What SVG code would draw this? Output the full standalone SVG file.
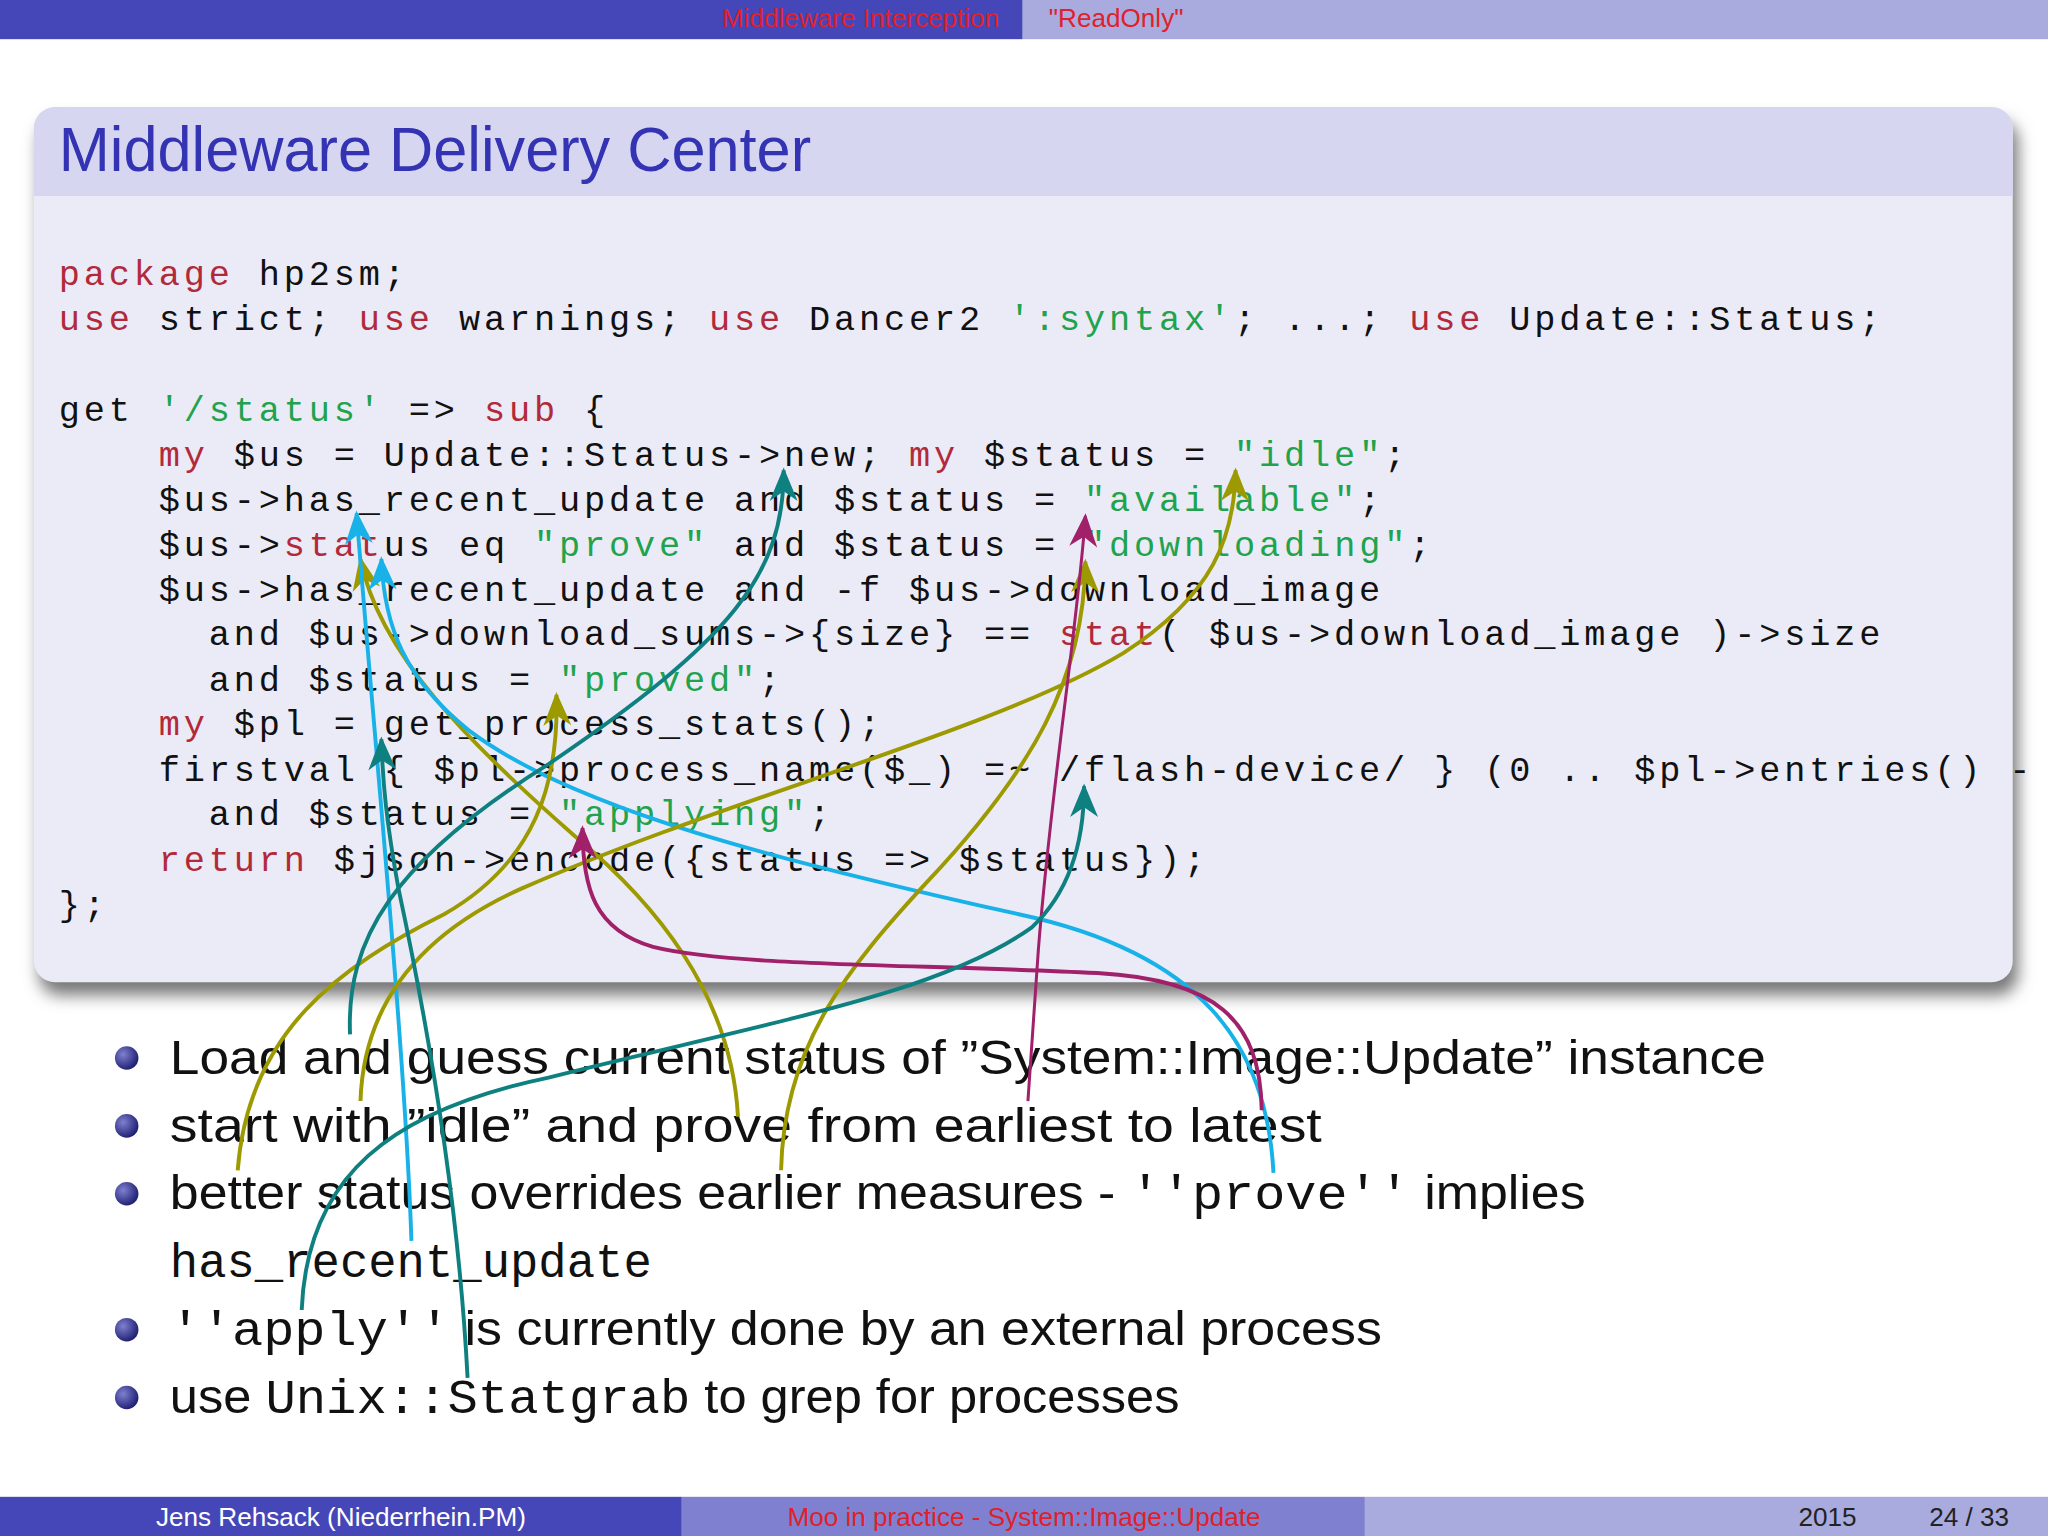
<svg xmlns="http://www.w3.org/2000/svg" width="2048" height="1536" viewBox="0 0 2048 1536">
<defs>
<style>
.code{font-family:"Liberation Mono",monospace;font-size:27px;letter-spacing:2.95px;fill:#111;white-space:pre}
.k{fill:#b22a3a}.s{fill:#1fa34d}
.bt{font-family:"Liberation Sans",Arial,sans-serif;font-size:37px;fill:#111;white-space:pre}
.bm{font-family:"Liberation Mono",monospace}
.hd{font-family:"Liberation Sans",Arial,sans-serif;font-size:20px}
.c{fill:none;stroke-width:3}
.cy{stroke:#18b2e8}.te{stroke:#0f8080}.ol{stroke:#9c9a00}.ma{stroke:#a0206a}
</style>
<marker id="mcy" markerUnits="userSpaceOnUse" markerWidth="30" markerHeight="30" viewBox="-24 -12 28 24" refX="0" refY="0" orient="auto"><path d="M2,0 L-22,-10 L-15,0 L-22,10 Z" fill="#18b2e8"/></marker>
<marker id="mte" markerUnits="userSpaceOnUse" markerWidth="30" markerHeight="30" viewBox="-24 -12 28 24" refX="0" refY="0" orient="auto"><path d="M2,0 L-22,-10 L-15,0 L-22,10 Z" fill="#0f8080"/></marker>
<marker id="mol" markerUnits="userSpaceOnUse" markerWidth="30" markerHeight="30" viewBox="-24 -12 28 24" refX="0" refY="0" orient="auto"><path d="M2,0 L-22,-10 L-15,0 L-22,10 Z" fill="#9c9a00"/></marker>
<marker id="mma" markerUnits="userSpaceOnUse" markerWidth="30" markerHeight="30" viewBox="-24 -12 28 24" refX="0" refY="0" orient="auto"><path d="M2,0 L-22,-10 L-15,0 L-22,10 Z" fill="#a0206a"/></marker>
<filter id="sh" x="-5%" y="-5%" width="110%" height="115%"><feGaussianBlur stdDeviation="6"/></filter>
<radialGradient id="bul" cx="0.35" cy="0.35" r="0.7"><stop offset="0" stop-color="#8080d0"/><stop offset="1" stop-color="#1c1c70"/></radialGradient>
</defs>
<rect width="2048" height="1536" fill="#fff"/>
<g transform="scale(1.30612)">
<g id="header">
<rect x="0" y="0" width="783" height="30" fill="#4547b8"/>
<rect x="783" y="0" width="785" height="30" fill="#a9aade"/>
<text class="hd" x="765" y="21" text-anchor="end" fill="#e0202a">Middleware Interception</text>
<text class="hd" x="803" y="21" fill="#e0202a">"ReadOnly"</text>
</g>
<g id="block">
<rect x="30" y="92" width="1515" height="670" rx="16" fill="#777" filter="url(#sh)"/>
<rect x="26" y="82" width="1515" height="670" rx="16" fill="#ebebf7"/>
<path d="M26,150 V98 A16,16 0 0 1 42,82 H1525 A16,16 0 0 1 1541,98 V150 Z" fill="#d6d6f0"/>
<text x="45" y="131" font-family="'Liberation Sans',Arial,sans-serif" font-size="48" fill="#3333b3" textLength="576" lengthAdjust="spacingAndGlyphs">Middleware Delivery Center</text>
</g>
<g id="code" xml:space="preserve">
<text class="code" x="45" y="218"><tspan class="k">package</tspan> hp2sm;</text>
<text class="code" x="45" y="253"><tspan class="k">use</tspan> strict; <tspan class="k">use</tspan> warnings; <tspan class="k">use</tspan> Dancer2 <tspan class="s">':syntax'</tspan>; ...; <tspan class="k">use</tspan> Update::Status;</text>
<text class="code" x="45" y="322">get <tspan class="s">'/status'</tspan> =&gt; <tspan class="k">sub</tspan> {</text>
<text class="code" x="45" y="357">    <tspan class="k">my</tspan> $us = Update::Status-&gt;new; <tspan class="k">my</tspan> $status = <tspan class="s">"idle"</tspan>;</text>
<text class="code" x="45" y="391">    $us-&gt;has_recent_update and $status = <tspan class="s">"available"</tspan>;</text>
<text class="code" x="45" y="426">    $us-&gt;<tspan class="k">stat</tspan>us eq <tspan class="s">"prove"</tspan> and $status = <tspan class="s">"downloading"</tspan>;</text>
<text class="code" x="45" y="460">    $us-&gt;has_recent_update and -f $us-&gt;download_image</text>
<text class="code" x="45" y="494">      and $us-&gt;download_sums-&gt;{size} == <tspan class="k">stat</tspan>( $us-&gt;download_image )-&gt;size</text>
<text class="code" x="45" y="529">      and $status = <tspan class="s">"proved"</tspan>;</text>
<text class="code" x="45" y="563">    <tspan class="k">my</tspan> $pl = get_process_stats();</text>
<text class="code" x="45" y="598">    firstval { $pl-&gt;process_name($_) =~ /flash-device/ } (0 .. $pl-&gt;entries() -</text>
<text class="code" x="45" y="632">      and $status = <tspan class="s">"applying"</tspan>;</text>
<text class="code" x="45" y="667">    <tspan class="k">return</tspan> $json-&gt;encode({status =&gt; $status});</text>
<text class="code" x="45" y="701">};</text>
</g>
<g id="bullets">
<circle cx="97" cy="810" r="9" fill="url(#bul)"/>
<circle cx="97" cy="862" r="9" fill="url(#bul)"/>
<circle cx="97" cy="914" r="9" fill="url(#bul)"/>
<circle cx="97" cy="1018" r="9" fill="url(#bul)"/>
<circle cx="97" cy="1070" r="9" fill="url(#bul)"/>
<text class="bt" x="130" y="822" textLength="1222" lengthAdjust="spacingAndGlyphs">Load and guess current status of ”System::Image::Update” instance</text>
<text class="bt" x="130" y="874" textLength="882" lengthAdjust="spacingAndGlyphs">start with ”idle” and prove from earliest to latest</text>
<text class="bt" x="130" y="926" textLength="1084" lengthAdjust="spacingAndGlyphs">better status overrides earlier measures - <tspan class="bm">''prove''</tspan> implies</text>
<text class="bt bm" x="130" y="978" textLength="369" lengthAdjust="spacingAndGlyphs">has_recent_update</text>
<text class="bt" x="130" y="1030" textLength="928" lengthAdjust="spacingAndGlyphs"><tspan class="bm">''apply''</tspan> is currently done by an external process</text>
<text class="bt" x="130" y="1082" textLength="773" lengthAdjust="spacingAndGlyphs">use <tspan class="bm">Unix::Statgrab</tspan> to grep for processes</text>
</g>
<g id="connectors">
<path class="c ol" marker-end="url(#mol)" d="M565,855 C560,760 500,690 440,640 C360,570 290,500 276,428"/>
<path class="c cy" marker-end="url(#mcy)" d="M315,950 C310,800 285,550 273,393"/>
<path class="c cy" marker-end="url(#mcy)" d="M975,898 C970,800 920,730 780,700 C600,660 440,620 360,560 C310,520 294,480 292,428"/>
<path class="c ol" marker-end="url(#mol)" d="M182,896 C190,790 260,740 340,700 C410,660 428,600 426,532"/>
<path class="c ol" marker-end="url(#mol)" d="M276,843 C278,780 310,720 400,680 C560,610 760,560 860,500 C930,455 945,410 946,360"/>
<path class="c ol" marker-end="url(#mol)" d="M598,896 C600,800 650,740 710,675 C790,590 830,520 831,430"/>
<path class="c ma" style="stroke-width:2.3" marker-end="url(#mma)" d="M787,843 L795,727 C805,600 825,480 831,395"/>
<path class="c ma" marker-end="url(#mma)" d="M966,850 C965,780 930,750 840,745 C700,738 560,740 500,725 C455,712 446,680 446,634"/>
<path class="c te" marker-end="url(#mte)" d="M268,792 C265,720 300,660 420,585 C560,490 600,440 600,360"/>
<path class="c te" marker-end="url(#mte)" d="M358,1055 C350,900 320,750 305,680 C296,630 293,600 292,566"/>
<path class="c te" marker-end="url(#mte)" d="M231,1003 C235,900 300,850 420,825 C600,780 720,760 790,710 C822,680 830,640 830,602"/>
</g>
<g id="footer">
<rect x="0" y="1146" width="522" height="30" fill="#4547b8"/>
<rect x="522" y="1146" width="523" height="30" fill="#7f80d0"/>
<rect x="1045" y="1146" width="523" height="30" fill="#a9aade"/>
<text class="hd" x="261" y="1168" text-anchor="middle" fill="#fff">Jens Rehsack  (Niederrhein.PM)</text>
<text class="hd" x="784" y="1168" text-anchor="middle" fill="#e0202a">Moo in practice - System::Image::Update</text>
<text class="hd" x="1377" y="1168" fill="#222">2015</text>
<text class="hd" x="1477" y="1168" fill="#222">24 / 33</text>
</g>
</g>
</svg>
